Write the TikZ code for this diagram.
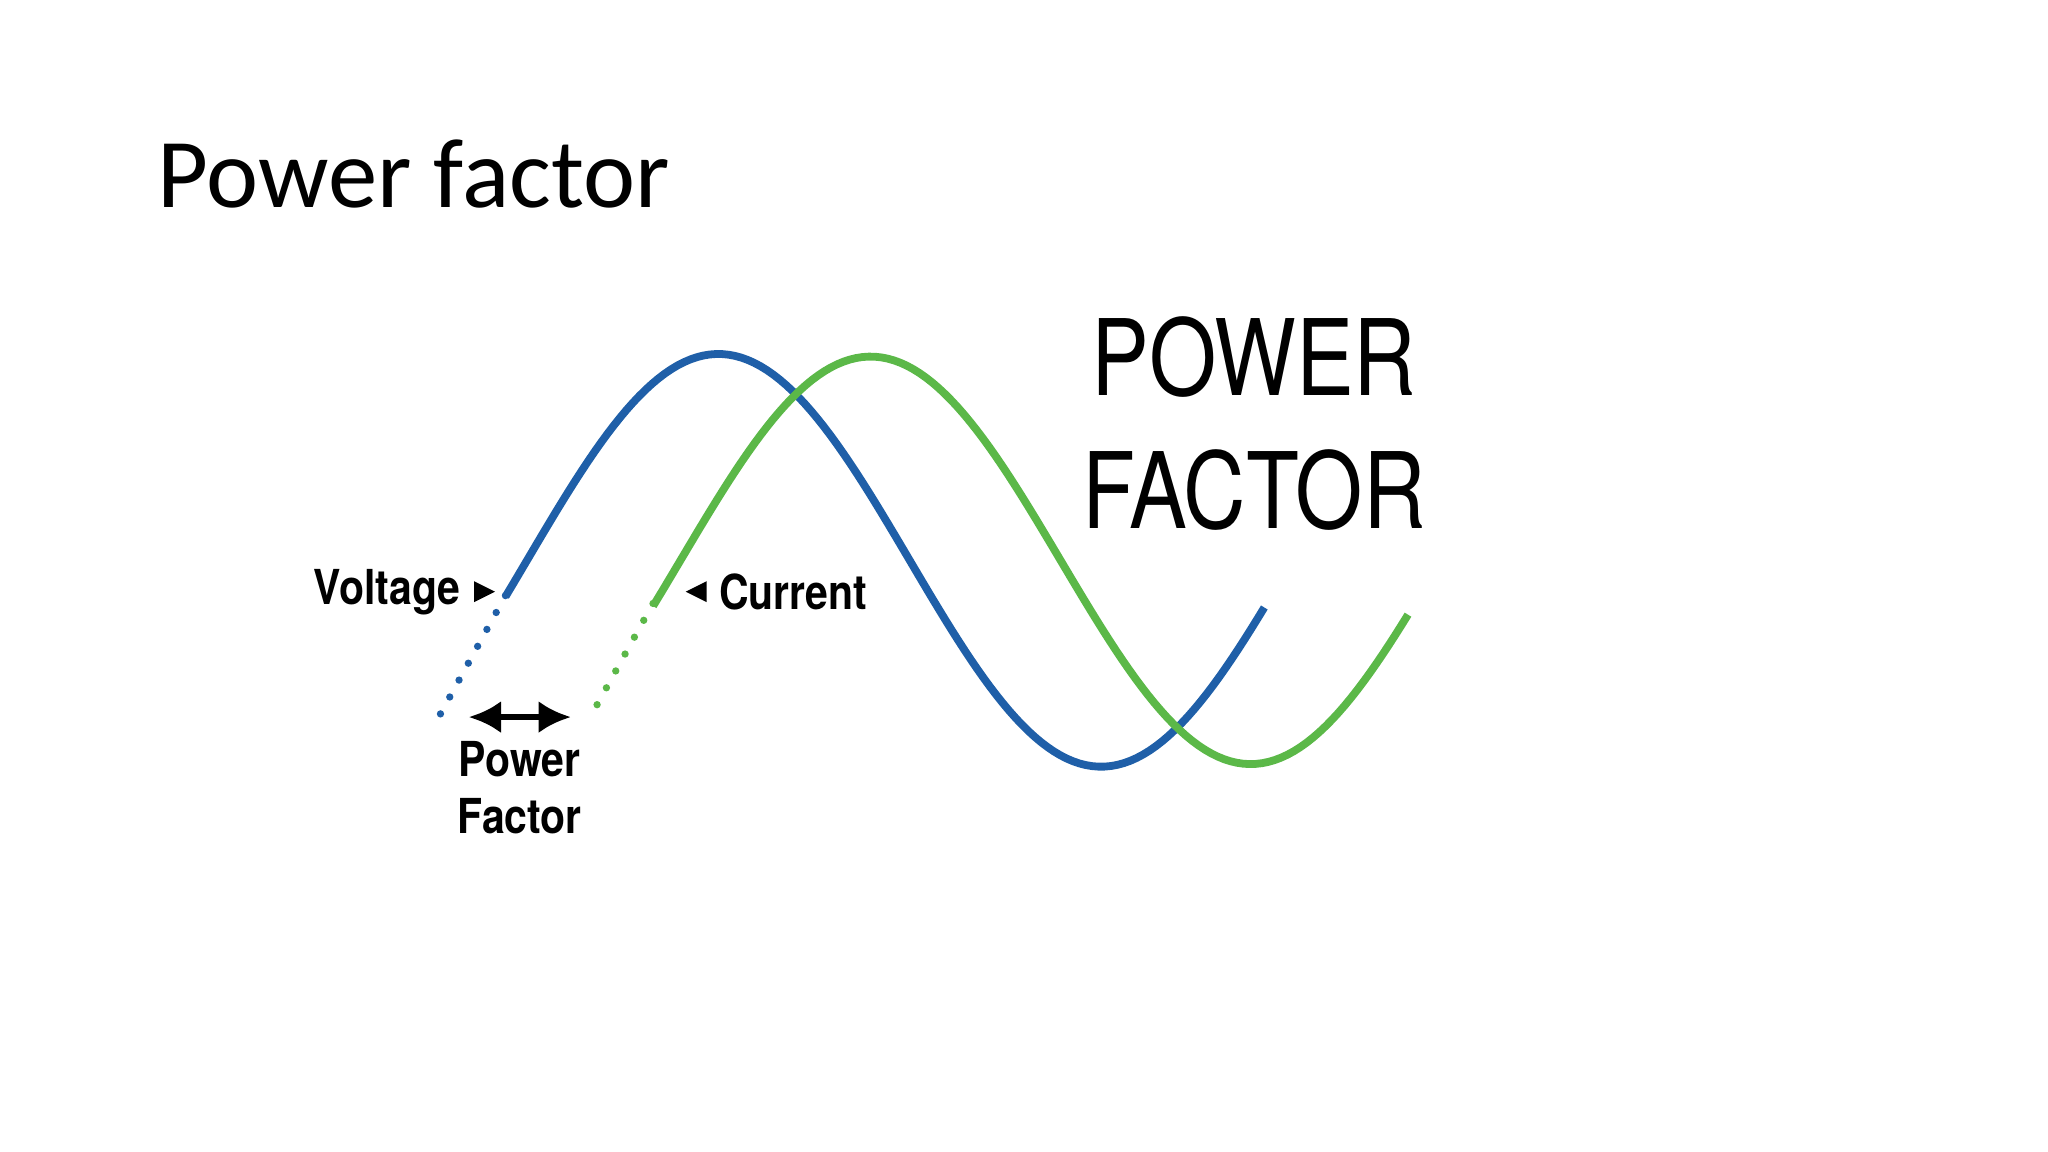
\documentclass[tikz,border=0pt]{standalone}
\usepackage{fontspec}
\usetikzlibrary{arrows.meta}
\setmainfont{Carlito}
\newfontfamily\heros{TeX Gyre Heros}
\definecolor{vblue}{HTML}{1F5FA8}
\definecolor{cgreen}{HTML}{5BB848}
\begin{document}
\begin{tikzpicture}[x=0.1mm,y=-0.1mm,
  wave/.style={line width=1.7pt},
  dots/.style={line width=1.6pt,line cap=round,dash pattern=on 0pt off 4.2pt},
  lbl/.style={font=\heros\bfseries\fontsize{10.5}{12}\selectfont,xscale=0.85,inner sep=0pt},
  big/.style={font=\heros\fontsize{23}{28}\selectfont,xscale=0.82,inner sep=0pt}]
\useasboundingbox (0,0) rectangle (1568,882);
\node[anchor=west,inner sep=0pt,font=\fontsize{21.5}{26}\selectfont] (title) at (120,133) {Power factor};
% waves
\coordinate (vs) at (387,456);
\coordinate (vd) at (337,547);
\coordinate (cs) at (500,462);
\coordinate (cd) at (453,547);
\draw[wave,vblue] plot[domain=387:968,samples=120] (\x,{429-158*sin((\x-403.5)/586*360)});
\draw[wave,cgreen] plot[domain=500:1078,samples=120] (\x,{429-156*sin((\x-521)/582*360)});
\draw[dots,vblue] (vs) -- (vd);
\draw[dots,cgreen] (cs) -- (cd);
% labels
\node[lbl,anchor=east] (volt) at (353,453) {Voltage};
\node[lbl,anchor=west] (curr) at (550,453) {Current};
\fill (363,445) -- (379,453) -- (363,461) -- cycle;
\fill (541,445) -- (525,453) -- (541,461) -- cycle;
\coordinate (pa) at (359,549);
\coordinate (pb) at (437,549);
\draw[line width=1.3pt,{Latex[length=7pt,width=7pt]}-{Latex[length=7pt,width=7pt]}] (pa) -- (pb);
\node[lbl,align=center,font=\heros\bfseries\fontsize{10.5}{12.3}\selectfont] (pf) at (398,603) {Power\\Factor};
\node[big,align=center] (bigt) at (960,324) {POWER\\[1pt]FACTOR};
\end{tikzpicture}
\end{document}
